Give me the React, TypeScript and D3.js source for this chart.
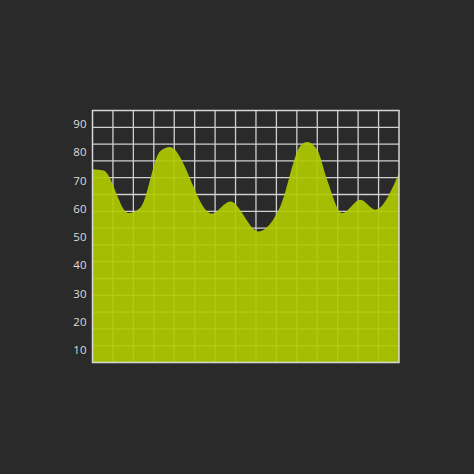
import { useEffect, useRef } from 'react';
import * as d3 from 'd3';

// x in grid-column units (0..15), y in chart units
const xs = [0, 0.55, 1.75, 2.35, 3.3, 3.78, 5.84, 6.74, 8.13, 9.19, 10.17, 10.5, 11.0, 11.48, 12.22, 13.11, 13.85, 15];
const values = [74, 73.5, 58.5, 60.5, 80.2, 81.8, 58.3, 62.6, 52, 60.8, 82.2, 83.6, 80.8, 70.3, 58.5, 63.2, 59.7, 72.6];
const yTicks = [10, 20, 30, 40, 50, 60, 70, 80, 90];

export default function App() {
  const svgRef = useRef<SVGSVGElement>(null);

  useEffect(() => {
    if (!svgRef.current) return;
    const svg = d3.select(svgRef.current);
    svg.selectAll('*').remove();

    const width = 474;
    const height = 474;
    const margin = { top: 110.5, right: 75, bottom: 111.5, left: 92.5 };
    const w = width - margin.left - margin.right;
    const h = height - margin.top - margin.bottom;

    svg.append('rect').attr('width', width).attr('height', height).attr('fill', '#2b2a2a');

    const g = svg.append('g').attr('transform', `translate(${margin.left},${margin.top})`);

    const x = d3.scaleLinear().domain([0, 15]).range([0, w]);
    const y = d3.scaleLinear().domain([5.75, 94.7]).range([h, 0]);
    const gx = d3.scaleLinear().domain([0, 15]).range([0, w]);
    const gy = d3.scaleLinear().domain([0, 15]).range([h, 0]);

    // grid
    const grid = g.append('g').attr('stroke', '#d0d0d0').attr('stroke-width', 1.3);
    for (let i = 1; i < 15; i++) {
      grid.append('line').attr('x1', gx(i)).attr('x2', gx(i)).attr('y1', 0).attr('y2', h);
      grid.append('line').attr('x1', 0).attr('x2', w).attr('y1', gy(i)).attr('y2', gy(i));
    }

    const area = d3.area<number>()
      .x((_, i) => x(xs[i]))
      .y0(h)
      .y1((d) => y(d))
      .curve(d3.curveMonotoneX);

    g.append('path')
      .datum(values)
      .attr('d', area)
      .attr('fill', '#b0cb00')
      .attr('fill-opacity', 0.92);

    // frame
    g.append('rect')
      .attr('width', w)
      .attr('height', h)
      .attr('fill', 'none')
      .attr('stroke', '#d8d8d8')
      .attr('stroke-width', 1.5);

    g.append('g')
      .selectAll('text')
      .data(yTicks)
      .join('text')
      .attr('x', -6)
      .attr('y', (d) => y(d))
      .attr('dy', '0.35em')
      .attr('text-anchor', 'end')
      .attr('fill', '#dcdcdc')
      .style('font-family', '"Open Sans", sans-serif')
      .style('font-size', '11.5px')
      .text((d) => d);
  }, []);

  return <svg ref={svgRef} width={474} height={474} style={{ display: 'block', position: 'absolute', left: 0, top: 0 }} />;
}
